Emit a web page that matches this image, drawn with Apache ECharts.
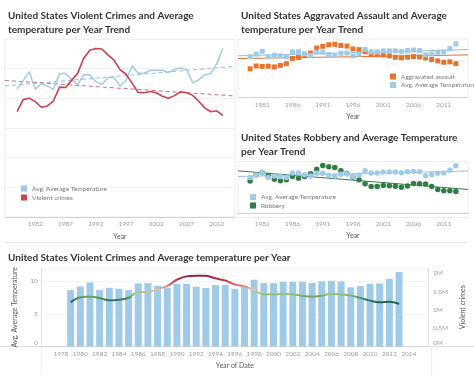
<!DOCTYPE html>
<html>
<head>
<meta charset="utf-8">
<script src="https://cdn.jsdelivr.net/npm/echarts/dist/echarts.min.js"></script>
<style>
  html, body { margin: 0; padding: 0; background: #fff; }
  #chart { width: 474px; height: 379px; }
</style>
</head>
<body>
<div id="chart"></div>
<script>
// ---------------- DATA ----------------
const years = [1979,1980,1981,1982,1983,1984,1985,1986,1987,1988,1989,1990,1991,1992,1993,1994,1995,1996,1997,1998,1999,2000,2001,2002,2003,2004,2005,2006,2007,2008,2009,2010,2011,2012,2013];
const avgTemperature = [8.62,9.19,9.80,8.62,8.98,8.82,8.62,9.65,9.69,9.28,8.93,9.59,9.59,9.13,8.93,9.39,9.43,8.82,9.19,10.20,9.69,9.69,9.89,9.89,9.89,9.74,9.95,10.05,9.95,9.04,9.24,9.59,9.65,10.35,11.38];
const violentCrimes = [1208000,1345000,1362000,1322000,1258000,1273000,1329000,1489000,1484000,1566000,1646000,1820000,1912000,1932000,1926000,1858000,1799000,1689000,1636000,1534000,1426000,1425000,1439000,1424000,1384000,1360000,1391000,1435000,1423000,1394000,1326000,1251000,1206000,1217000,1163000];
const aggravatedAssault = [614000,673000,664000,669000,653000,685000,723000,834000,855000,910000,952000,1055000,1093000,1127000,1136000,1113000,1099000,1037000,1023000,977000,912000,912000,909000,891000,859000,847000,862000,874000,866000,844000,813000,782000,752000,762000,724000];
const robbery = [481000,566000,593000,553000,507000,485000,498000,543000,518000,543000,578000,639000,688000,672000,660000,619000,581000,536000,499000,447000,409000,408000,424000,421000,414000,401000,417000,449000,447000,444000,409000,369000,355000,355000,345000];

const chart1YearTicks = [1982,1987,1992,1997,2002,2007,2012];
const chart23YearTicks = [1981,1986,1991,1996,2001,2006,2011];
const chart4YearTicks = [1978,1980,1982,1984,1986,1988,1990,1992,1994,1996,1998,2000,2002,2004,2006,2008,2010,2012,2014];
const chart4TempTicks = [0,5,10];
const chart4CrimeTicks = [0,500000,1000000,1500000,2000000];

// ---------------- HELPERS ----------------
const FONT = 'Lato';
const BLUE = '#a0cbe8';
const RED = '#c8434f';
const ORANGE = '#e8732a';
const GREEN = '#2f7d46';

function pairs(xs, ys) { return xs.map((x, i) => [x, ys[i]]); }
function trend(xs, ys, x0, x1) {
  const n = xs.length;
  const mx = xs.reduce((a, b) => a + b, 0) / n;
  const my = ys.reduce((a, b) => a + b, 0) / n;
  let sxy = 0, sxx = 0;
  for (let i = 0; i < n; i++) { sxy += (xs[i] - mx) * (ys[i] - my); sxx += (xs[i] - mx) * (xs[i] - mx); }
  const b = sxy / sxx;
  return [[x0, my + b * (x0 - mx)], [x1, my + b * (x1 - mx)]];
}
function yearAxis(gi, ticks, min, max, interval, nameText, nameGap, margin) {
  return {
    type: 'value', gridIndex: gi, min: min, max: max, interval: interval,
    axisLine: { show: true, lineStyle: { color: '#d2d2d2', width: 1 } },
    axisTick: { show: false },
    splitLine: { show: false },
    axisLabel: {
      fontFamily: FONT, fontSize: 6.5, color: '#9a9a9a', margin: margin,
      formatter: v => ticks.includes(Math.round(v)) && Math.abs(v - Math.round(v)) < 1e-6 ? String(Math.round(v)) : ''
    },
    name: nameText, nameLocation: 'middle', nameGap: nameGap,
    nameTextStyle: { fontFamily: FONT, fontSize: 7, color: '#555' }
  };
}
function hiddenY(gi, min, max) {
  return { type: 'value', gridIndex: gi, min: min, max: max, show: false, splitLine: { show: false } };
}
const smallText = { fontFamily: FONT, fontSize: 6.5, color: '#777' };
const titleStyle = { fontFamily: FONT, fontSize: 10, fontWeight: 'bold', color: '#333', lineHeight: 14 };

const chart = echarts.init(document.getElementById('chart'), null, { renderer: 'canvas' });

const option = {
  animation: false,
  backgroundColor: '#fff',
  title: [
    { text: 'United States Violent Crimes and Average\ntemperature per Year Trend', left: 8, top: 8.5, padding: 0, textStyle: titleStyle },
    { text: 'United States Aggravated Assault and Average\ntemperature per Year Trend', left: 241, top: 8.5, padding: 0, textStyle: titleStyle },
    { text: 'United States Robbery and Average Temperature\nper Year Trend', left: 241, top: 131, padding: 0, textStyle: titleStyle },
    { text: 'United States Violent Crimes and Average temperature per Year', left: 8, top: 250.5, padding: 0, textStyle: titleStyle }
  ],
  grid: [
    { left: 5, top: 39, width: 230, height: 178, show: true, borderColor: '#ececec', borderWidth: 1 },
    { left: 238, top: 39, width: 230, height: 58.5, show: true, borderColor: '#ececec', borderWidth: 1 },
    { left: 238, top: 161.5, width: 230, height: 56, show: true, borderColor: '#ececec', borderWidth: 1 },
    { left: 41.7, top: 268, width: 390, height: 78.5 }
  ],
  xAxis: [
    yearAxis(0, chart1YearTicks, 1977, 2015, 1, 'Year', 16, 3),
    yearAxis(1, chart23YearTicks, 1977, 2015, 1, 'Year', 15.5, 3.5),
    yearAxis(2, chart23YearTicks, 1977, 2015, 1, 'Year', 15, 3),
    yearAxis(3, chart4YearTicks, 1976, 2016, 2, 'Year of Date', 15.5, 3.5)
  ],
  yAxis: [
    { type: 'value', gridIndex: 0, min: 0, max: 12, interval: 2,
      axisLine: { show: false }, axisTick: { show: false }, axisLabel: { show: false },
      splitLine: { show: true, lineStyle: { color: '#f1f1f1', width: 1 } } },
    hiddenY(0, 0, 2040000),
    hiddenY(1, 0, 12.4),
    hiddenY(1, 0, 1250000),
    hiddenY(2, -0.9, 12.4),
    hiddenY(2, 0, 740000),
    { type: 'value', gridIndex: 3, position: 'left', min: 0, max: 12, interval: 5,
      axisLine: { show: true, lineStyle: { color: '#e2e2e2' } }, axisTick: { show: false },
      splitLine: { show: true, lineStyle: { color: '#f3f3f3' } },
      axisLabel: { fontFamily: FONT, fontSize: 6.5, color: '#9a9a9a', margin: 4,
        formatter: v => chart4TempTicks.includes(v) ? (v === 0 ? '{z|0}' : String(v)) : '',
        rich: { z: { fontFamily: FONT, fontSize: 6.5, color: '#9a9a9a', padding: [0, 0, 8, 0] } } },
      name: 'Avg. Average Temperature', nameLocation: 'middle', nameGap: 23.5, nameRotate: 90,
      nameTextStyle: { fontFamily: FONT, fontSize: 7, color: '#555' } },
    { type: 'value', gridIndex: 3, position: 'right', min: 0, max: 2140000, interval: 500000,
      axisLine: { show: true, lineStyle: { color: '#e2e2e2' } }, axisTick: { show: false },
      splitLine: { show: false },
      axisLabel: { fontFamily: FONT, fontSize: 6.5, color: '#9a9a9a', margin: 5,
        formatter: v => {
          const r = Math.round(v);
          if (!chart4CrimeTicks.includes(r)) return '';
          const s = (r / 1e6) + 'M';
          return r === 0 ? '{z|' + s + '}' : s;
        },
        rich: { z: { fontFamily: FONT, fontSize: 6.5, color: '#9a9a9a', padding: [0, 0, 8, 0] } } },
      name: 'Violent crimes', nameLocation: 'middle', nameGap: 25, nameRotate: 90,
      nameTextStyle: { fontFamily: FONT, fontSize: 7, color: '#555' } }
  ],
  legend: [
    { left: 16, top: 180, orient: 'vertical', icon: 'rect', itemWidth: 6, itemHeight: 6, itemGap: 2,
      selectedMode: false, textStyle: smallText,
      data: [{ name: 'Avg. Average Temperature', itemStyle: { color: BLUE } },
             { name: 'Violent crimes', itemStyle: { color: RED } }] },
    { left: 385, top: 68, orient: 'vertical', icon: 'rect', itemWidth: 6, itemHeight: 6, itemGap: 1.5,
      selectedMode: false, textStyle: smallText,
      data: [{ name: 'Aggravated assault', itemStyle: { color: ORANGE } },
             { name: 'Avg. Average Temperature', itemStyle: { color: BLUE } }] },
    { left: 245, top: 188.5, orient: 'vertical', icon: 'rect', itemWidth: 6, itemHeight: 6, itemGap: 1.5,
      selectedMode: false, textStyle: smallText,
      data: [{ name: 'Avg. Average Temperature', itemStyle: { color: BLUE } },
             { name: 'Robbery', itemStyle: { color: GREEN } }] }
  ],
  visualMap: [{
    type: 'continuous', show: false, seriesIndex: 13, dimension: 1,
    min: 1160000, max: 1940000,
    inRange: { color: ['#1a5548', '#3a7f55', '#95c16c', '#e9c3a6', '#dc6e72', '#b93a52', '#981c3d'] }
  }],
  series: [
    // Chart 1
    { name: 'Avg. Average Temperature', type: 'line', xAxisIndex: 0, yAxisIndex: 0, symbol: 'none',
      data: pairs(years, avgTemperature), lineStyle: { color: BLUE, width: 1.5 }, itemStyle: { color: BLUE }, z: 3 },
    { name: 'Violent crimes', type: 'line', xAxisIndex: 0, yAxisIndex: 1, symbol: 'none',
      data: pairs(years, violentCrimes), lineStyle: { color: RED, width: 1.6 }, itemStyle: { color: RED }, z: 4 },
    { name: 'temp trend 1', type: 'line', xAxisIndex: 0, yAxisIndex: 0, symbol: 'none', silent: true,
      data: trend(years, avgTemperature, 1977, 2015), lineStyle: { color: '#8fbfdf', width: 1, type: [4, 3] }, z: 2 },
    { name: 'crime trend 1', type: 'line', xAxisIndex: 0, yAxisIndex: 1, symbol: 'none', silent: true,
      data: trend(years, violentCrimes, 1977, 2015), lineStyle: { color: '#d06a72', width: 1, type: [4, 3] }, z: 2 },
    // Chart 2
    { name: 'Aggravated assault', type: 'scatter', xAxisIndex: 1, yAxisIndex: 3, symbol: 'rect', symbolSize: 5,
      data: pairs(years, aggravatedAssault), itemStyle: { color: ORANGE, opacity: 1 }, z: 4 },
    { name: 'Avg. Average Temperature', type: 'scatter', xAxisIndex: 1, yAxisIndex: 2, symbol: 'rect', symbolSize: 5,
      data: pairs(years, avgTemperature), itemStyle: { color: BLUE, opacity: 1 }, z: 4 },
    { name: 'assault trend', type: 'line', xAxisIndex: 1, yAxisIndex: 3, symbol: 'none', silent: true,
      data: trend(years, aggravatedAssault, 1977, 2015), lineStyle: { color: ORANGE, width: 1 }, z: 3 },
    { name: 'temp trend 2', type: 'line', xAxisIndex: 1, yAxisIndex: 2, symbol: 'none', silent: true,
      data: trend(years, avgTemperature, 1977, 2015), lineStyle: { color: '#8fbfdf', width: 1 }, z: 3 },
    // Chart 3
    { name: 'Robbery', type: 'scatter', xAxisIndex: 2, yAxisIndex: 5, symbol: 'circle', symbolSize: 5.5,
      data: pairs(years, robbery), itemStyle: { color: GREEN, opacity: 1 }, z: 4 },
    { name: 'Avg. Average Temperature', type: 'scatter', xAxisIndex: 2, yAxisIndex: 4, symbol: 'circle', symbolSize: 5.5,
      data: pairs(years, avgTemperature), itemStyle: { color: BLUE, opacity: 1 }, z: 4 },
    { name: 'robbery trend', type: 'line', xAxisIndex: 2, yAxisIndex: 5, symbol: 'none', silent: true,
      data: trend(years, robbery, 1977, 2015), lineStyle: { color: '#3b7a4c', width: 1 }, z: 3 },
    { name: 'temp trend 3', type: 'line', xAxisIndex: 2, yAxisIndex: 4, symbol: 'none', silent: true,
      data: trend(years, avgTemperature, 1977, 2015), lineStyle: { color: '#8fbfdf', width: 1 }, z: 3 },
    // Chart 4
    { name: 'Avg. Average Temperature (bars)', type: 'bar', xAxisIndex: 3, yAxisIndex: 6, barWidth: 7,
      data: pairs(years, avgTemperature), itemStyle: { color: BLUE }, z: 2 },
    { name: 'Violent crimes (line)', type: 'line', xAxisIndex: 3, yAxisIndex: 7, symbol: 'none', smooth: 0.4,
      data: pairs(years, violentCrimes), lineStyle: { width: 2 }, z: 5 }
  ],
  graphic: [
    { type: 'line', shape: { x1: 5, y1: 242.5, x2: 467, y2: 242.5 }, style: { stroke: '#e4e4e4', lineWidth: 1 }, silent: true },
    { type: 'line', shape: { x1: 0, y1: 346.5, x2: 474, y2: 346.5 }, style: { stroke: '#dcdcdc', lineWidth: 1 }, silent: true },
    { type: 'line', shape: { x1: 41.7, y1: 346.5, x2: 41.7, y2: 375 }, style: { stroke: '#ececec', lineWidth: 1 }, silent: true },
    { type: 'line', shape: { x1: 431.7, y1: 346.5, x2: 431.7, y2: 375 }, style: { stroke: '#ececec', lineWidth: 1 }, silent: true }
  ]
};
chart.setOption(option);
</script>
</body>
</html>
